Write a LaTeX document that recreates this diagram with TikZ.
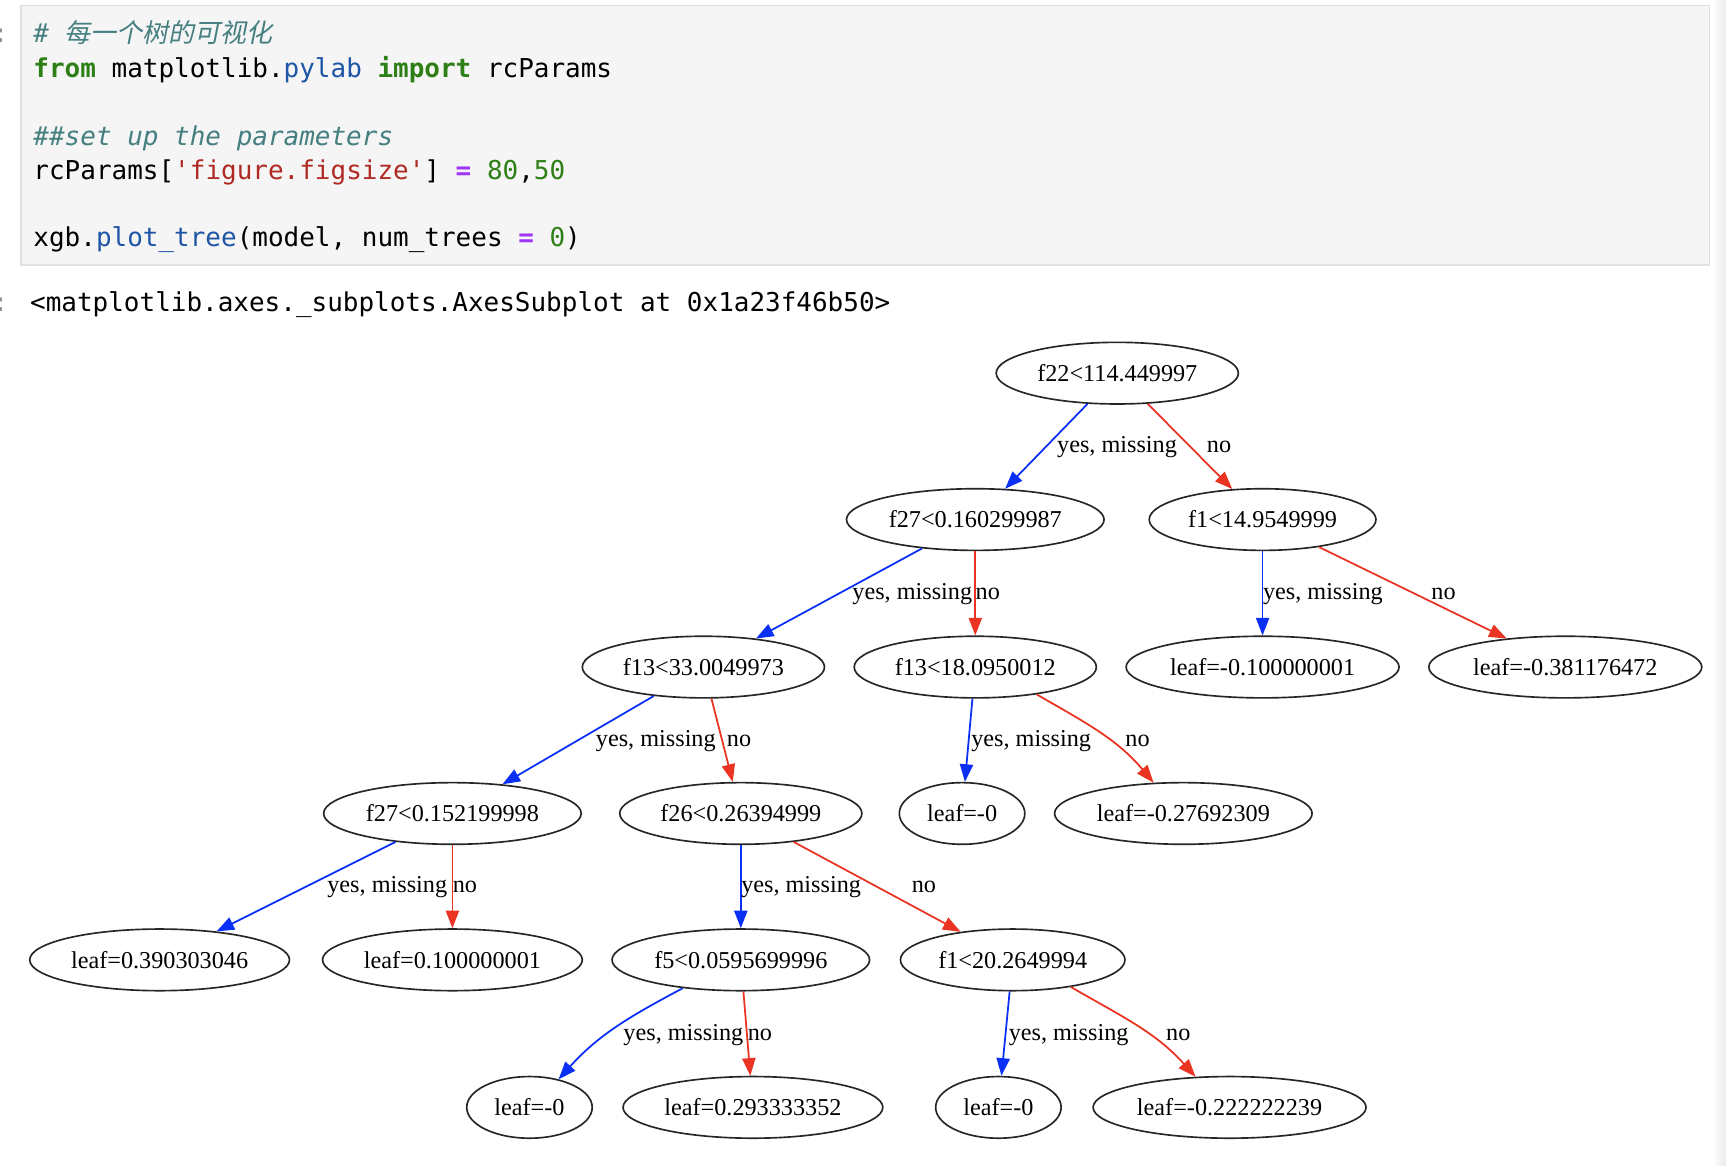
\documentclass[tikz,border=0pt]{standalone}
\usepackage{fontspec}
\usetikzlibrary{shapes.geometric,arrows.meta}
\setmainfont{Liberation Serif}
\setmonofont{DejaVu Sans Mono}
\newfontfamily\cjkit{Noto Sans CJK SC}[FakeSlant=0.2]
\definecolor{cbox}{HTML}{F5F5F5}
\definecolor{cborder}{HTML}{E0E0E0}
\definecolor{ccomment}{HTML}{467F80}
\definecolor{ckw}{HTML}{2D7F16}
\definecolor{cprop}{HTML}{1F55A6}
\definecolor{cstr}{HTML}{AF2A22}
\definecolor{cop}{HTML}{A035F8}
\definecolor{cnum}{HTML}{2D7F16}
\definecolor{cprompt}{HTML}{8A8A8A}
\definecolor{yesc}{HTML}{0A2FF5}
\definecolor{noc}{HTML}{EA3323}
\tikzset{
  codeline/.style={anchor=base west, inner sep=0pt, font=\ttfamily\fontsize{11.8}{14}\selectfont},
  tnode/.style={ellipse, draw=black!85, line width=0.75pt, inner sep=0pt, minimum height=28pt, font=\fontsize{11}{13}\selectfont},
  elabel/.style={anchor=base west, inner sep=0pt, font=\fontsize{11}{13}\selectfont},
  yesedge/.style={draw=yesc, line width=0.8pt, -{Triangle[length=8pt,width=6pt]}},
  noedge/.style={draw=noc, line width=0.8pt, -{Triangle[length=8pt,width=6pt]}},
}
\begin{document}
\begin{tikzpicture}[x=0.5pt,y=-0.5pt]
\useasboundingbox (0,0) rectangle (1568,1059);
\fill[white] (0,0) rectangle (1568,1059);
\shade[left color=white, right color=black!8] (1555,0) rectangle (1568,1059);
% code cell
\draw[fill=cbox, draw=cborder, line width=0.8pt] (19,5) rectangle (1553,241);
\node[codeline, text=cprompt, anchor=base east] (p1) at (8,39) {:};
\node[codeline, text=cprompt, anchor=base east] (p2) at (8,283) {:};
\node[codeline, text=ccomment] (c1) at (30,39) {\itshape\#\ {\cjkit 每一个树的可视化}};
\node[codeline] (c2) at (30,70) {{\color{ckw}\bfseries from} matplotlib.{\color{cprop}pylab} {\color{ckw}\bfseries import} rcParams};
\node[codeline, text=ccomment] (c3) at (30,132) {\itshape \#\#set up the parameters};
\node[codeline] (c4) at (30,163) {rcParams[{\color{cstr}'figure.figsize'}] {\color{cop}\bfseries =} {\color{cnum}80},{\color{cnum}50}};
\node[codeline] (c5) at (30,224) {xgb.{\color{cprop}plot\_tree}(model, num\_trees {\color{cop}\bfseries =} {\color{cnum}0})};
\node[codeline] (c6) at (27,283) {<matplotlib.axes.\_subplots.AxesSubplot at 0x1a23f46b50>};
% tree nodes
\node[tnode, minimum width=110pt] (n0) at (1015,339) {f22<114.449997};
\node[tnode, minimum width=117pt] (n1) at (886,472) {f27<0.160299987};
\node[tnode, minimum width=103pt] (n2) at (1147,472) {f1<14.9549999};
\node[tnode, minimum width=110pt] (n3) at (639,606) {f13<33.0049973};
\node[tnode, minimum width=110pt] (n4) at (886,606) {f13<18.0950012};
\node[tnode, minimum width=124pt] (n5) at (1147,606) {leaf=-0.100000001};
\node[tnode, minimum width=124pt] (n6) at (1422,606) {leaf=-0.381176472};
\node[tnode, minimum width=117pt] (n7) at (411,739) {f27<0.152199998};
\node[tnode, minimum width=110pt] (n8) at (673,739) {f26<0.26394999};
\node[tnode, minimum width=57pt] (n9) at (874,739) {leaf=-0};
\node[tnode, minimum width=117pt] (n10) at (1075,739) {leaf=-0.27692309};
\node[tnode, minimum width=118pt] (n11) at (145,872) {leaf=0.390303046};
\node[tnode, minimum width=118pt] (n12) at (411,872) {leaf=0.100000001};
\node[tnode, minimum width=117pt] (n13) at (673,872) {f5<0.0595699996};
\node[tnode, minimum width=102pt] (n14) at (920,872) {f1<20.2649994};
\node[tnode, minimum width=57pt] (n15) at (481,1006) {leaf=-0};
\node[tnode, minimum width=118pt] (n16) at (684,1006) {leaf=0.293333352};
\node[tnode, minimum width=57pt] (n17) at (907,1006) {leaf=-0};
\node[tnode, minimum width=124pt] (n18) at (1117,1006) {leaf=-0.222222239};
% edges
\draw[yesedge] (n0) -- (n1);
\draw[noedge] (n0) -- (n2);
\draw[yesedge] (n1) -- (n3);
\draw[noedge] (n1) -- (n4);
\draw[yesedge] (n2) -- (n5);
\draw[noedge] (n2) -- (n6);
\draw[yesedge] (n3) -- (n7);
\draw[noedge] (n3) -- (n8);
\draw[yesedge] (n4) -- (n9);
\draw[noedge] (n4.-24) to[out=-30,in=130] (n10.134);
\draw[yesedge] (n7) -- (n11);
\draw[noedge] (n7) -- (n12);
\draw[yesedge] (n8) -- (n13);
\draw[noedge] (n8) -- (n14);
\draw[yesedge] (n13.206) to[out=208,in=48] (n15.44);
\draw[noedge] (n13) -- (n16);
\draw[yesedge] (n14) -- (n17);
\draw[noedge] (n14.-25) to[out=-30,in=132] (n18.138);
% edge labels
\node[elabel] (y0) at (960,411) {yes, missing};
\node[elabel] (o0) at (1096,411) {no};
\node[elabel] (y1) at (774,545) {yes, missing};
\node[elabel] (o1) at (886,545) {no};
\node[elabel] (y2) at (1147,545) {yes, missing};
\node[elabel] (o2) at (1300,545) {no};
\node[elabel] (y3) at (541,678) {yes, missing};
\node[elabel] (o3) at (660,678) {no};
\node[elabel] (y4) at (882,678) {yes, missing};
\node[elabel] (o4) at (1022,678) {no};
\node[elabel] (y5) at (297,811) {yes, missing};
\node[elabel] (o5) at (411,811) {no};
\node[elabel] (y6) at (673,811) {yes, missing};
\node[elabel] (o6) at (828,811) {no};
\node[elabel] (y7) at (566,945) {yes, missing};
\node[elabel] (o7) at (679,945) {no};
\node[elabel] (y8) at (916,945) {yes, missing};
\node[elabel] (o8) at (1059,945) {no};
\end{tikzpicture}
\end{document}
